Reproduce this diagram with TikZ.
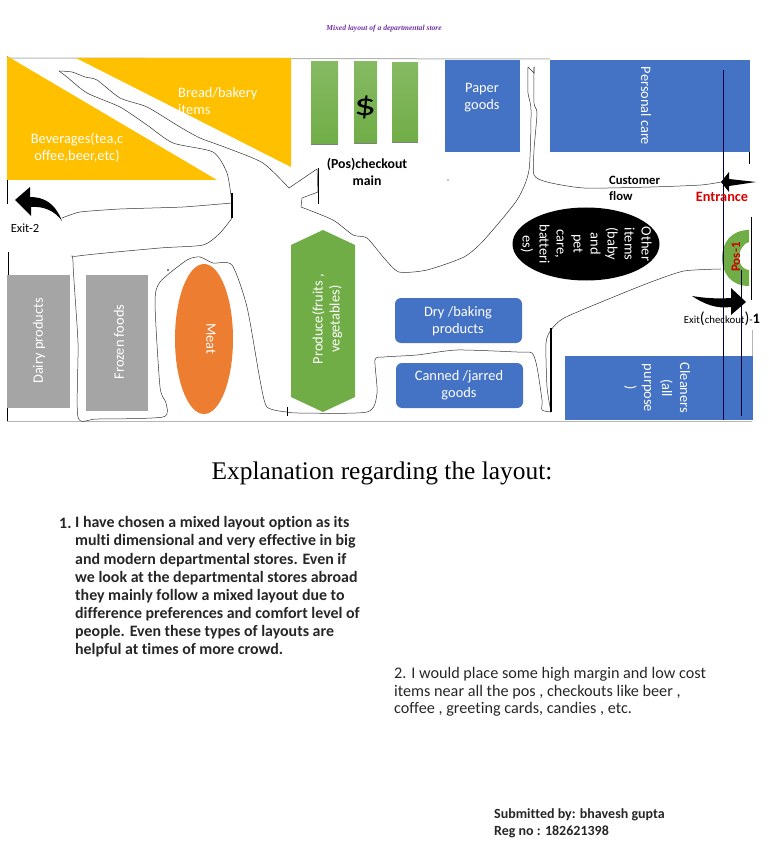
\documentclass[tikz,border=0pt]{standalone}
\usepackage{fontspec}
\usepackage{tikz}
\usetikzlibrary{shapes.geometric}
\setmainfont{Carlito}[Ligatures=NoCommon]
\newfontfamily\timesfont{Liberation Serif}
\definecolor{shelfyellow}{HTML}{FFC000}
\definecolor{shelfblue}{HTML}{4472C4}
\definecolor{shelfgray}{HTML}{A5A5A5}
\definecolor{shelforange}{HTML}{ED7D31}
\definecolor{shelfgreen}{HTML}{70AD47}
\definecolor{titlepurple}{HTML}{7030A0}
\definecolor{wallgray}{HTML}{B5B5B5}
\tikzset{
  shelftext/.style={inner sep=0pt, text=white, align=center, font=\fontsize{14.4}{17}\selectfont},
  blacktext/.style={inner sep=0pt, text=black, align=center, font=\fontsize{13.8}{16.5}\bfseries\selectfont},
  checkbar/.style={top color=shelfgreen!85!white, bottom color=shelfgreen, draw=none},
  flow/.style={black!80, line width=0.5pt},
  wall/.style={black, line width=0.8pt},
  para/.style={inner sep=0pt, align=left, anchor=north west, font=\fontsize{15.9}{18.1}\bfseries\selectfont, text=black!85},
}
\begin{document}
\begin{tikzpicture}[x=1pt,y=-1pt]
  \useasboundingbox (0,0) rectangle (768,866);
  % title
  \draw (384,29) node[inner sep=0pt, text=titlepurple, font=\fontsize{7.6}{9}\timesfont\bfseries\itshape\selectfont](title){Mixed layout of a departmental store};
  % walls
  \draw[wallgray, line width=1pt] (7,58) -- (550,59);
  \draw[wallgray, line width=1pt] (7,421) -- (752,421);
  \draw[wall] (7,56) -- (7,204);
  \draw[wall] (8,252) -- (8,275);
  \draw[wall] (7,408) -- (7,421);
  % triangles
  \fill[shelfyellow] (7,56) -- (217,180) -- (7,180) -- cycle;
  \fill[shelfyellow] (76,58) -- (291,58) -- (291,167) -- cycle;
  \draw (77,148) node[shelftext](beverages){Beverages(tea,c\\offee,beer,etc)};
  \draw (178,101) node[shelftext, anchor=west, align=left](bread){Bread/bakery\\items};
  % checkout bars
  \fill[checkbar] (311,62) rectangle (338,144);
  \fill[checkbar] (354,62) rectangle (377,143);
  \fill[checkbar] (392,63) rectangle (418,142);
  \draw[black!50] (311,144) -- (338,144);
  \draw[black!50] (354,143) -- (377,143);
  \draw[black!50] (392,142) -- (418,142);
  \draw (365,107) node[inner sep=0pt, xscale=1.4, font=\fontsize{31}{31}\selectfont](dollar){\$};
  \draw (367,172) node[blacktext](checkout){(Pos)checkout\\main};
  % blue shelves
  \fill[shelfblue] (445,60) rectangle (520,152);
  \draw (482,98) node[shelftext](paper){Paper\\goods};
  \fill[shelfblue] (550,60) rectangle (750,152);
  \draw (646,106) node[shelftext, rotate=-90](personal){Personal care};
  \fill[shelfblue] (565,356) rectangle (753,420);
  \draw (657,388) node[shelftext, rotate=-90, font=\fontsize{14.4}{18}\selectfont](cleaners){Cleaners\\(all\\purpose\\)};
  \draw[rounded corners=6pt, fill=shelfblue, draw=none] (395,298) rectangle (522,343);
  \draw (458,321) node[shelftext](dry){Dry /baking\\products};
  \draw[rounded corners=6pt, fill=shelfblue, draw=none] (396,363) rectangle (523,408);
  \draw (459,385) node[shelftext](canned){Canned /jarred\\goods};
  % other items
  \draw (586,244) node[ellipse, fill=black, minimum width=147pt, minimum height=73pt, inner sep=0pt](otherbg){};
  \draw (586,244) node[shelftext, rotate=-90](other){Other\\items\\(baby\\and\\pet\\care,\\batteri\\es)};
  % gray shelves
  \fill[shelfgray] (7,275) rectangle (70,408);
  \draw (39,341) node[shelftext, rotate=90](dairy){Dairy products};
  \fill[shelfgray] (86,275) rectangle (148,411);
  \draw (119,342) node[shelftext, rotate=90](frozen){Frozen foods};
  % meat and produce
  \draw (204,339) node[ellipse, fill=shelforange, minimum width=58pt, minimum height=150pt, inner sep=0pt](meatbg){};
  \draw (211,339) node[shelftext, rotate=-90](meat){Meat};
  \fill[shelfgreen] (323,230) -- (355,245) -- (355,397) -- (323,412) -- (291,397) -- (291,245) -- cycle;
  \draw (327,319) node[shelftext, rotate=90](produce){Produce(fruits ,\\vegetables)};
  % customer flow
  \draw[flow] plot[smooth, tension=0.4] coordinates {(59,71) (72,72) (85,77) (97,80) (120,98) (147,107) (180,127) (200,138) (227,148) (263,163) (289,188)}
    -- (317,169) -- (318,192) -- (302,198) -- (301,207);
  \draw[flow] plot[smooth, tension=0.4] coordinates {(301,207) (333,220) (353,235) (367,238) (384,258) (399,272) (427,270) (464,257) (484,240) (517,200) (529,170) (531,110) (528,93) (528,67)}
    -- (534,73) -- (534,67);
  \draw[flow] plot[smooth, tension=0.4] coordinates {(534,67) (534,103) (537,113) (534,150) (534,175) (547,182) (584,188) (651,187) (701,185) (721,182)};
  \draw[flow] plot[smooth, tension=0.4] coordinates {(59,71) (67,77) (87,93) (120,107) (147,125) (173,143) (213,152) (227,173) (232,203)};
  \draw[flow] plot[smooth, tension=0.3] coordinates {(232,203) (183,207) (120,209) (80,212) (62,218)};
  \draw[flow] plot[smooth, tension=0.4] coordinates {(232,218) (220,233) (203,245) (160,248) (78,256) (73,262) (78,343) (78,417) (97,419) (163,417) (166,403) (160,387) (155,303) (160,282) (187,260) (200,257) (213,263) (232,265) (247,307) (260,380) (267,407) (287,412)};
  \draw[flow] plot[smooth, tension=0.4] coordinates {(287,412) (298,413) (367,412) (377,393) (375,360) (384,357) (417,355) (457,350) (517,352) (532,353) (537,367) (542,400) (542,410) (551,412)};
  \draw[flow] plot[smooth, tension=0.4] coordinates {(551,412) (547,387) (546,343) (551,330) (564,318) (611,298) (651,282) (684,271) (721,269)};
  % short posts
  \draw[wall, line width=1.2pt] (232,193) -- (232,218);
  \draw[wall] (287,407) -- (287,416);
  \draw[wall] (318,168) -- (318,204);
  \draw[wall, line width=1.2pt] (551,328) -- (551,412);
  \fill[black] (448,180) circle (0.7);
  \fill[black] (168,270) circle (0.9);
  % pos arc
  \fill[shelfgreen, even odd rule] (749,230) .. controls (731,230) and (722,243) .. (722,258) .. controls (722,273) and (731,286) .. (749,286) -- (749,270) .. controls (744,270) and (739,265) .. (739,258) .. controls (739,250) and (744,243) .. (749,242) -- cycle;
  \draw (736,257) node[inner sep=0pt, rotate=90, text=red!80!black, font=\fontsize{13}{15}\bfseries\selectfont](pos){Pos-1};
  % long verticals
  \draw[black!75!blue, line width=0.9pt] (723,70) -- (723,420);
  \draw[black!80!blue, line width=0.8pt] (741,270) -- (741,416);
  \draw[wall] (751,217) -- (751,300);
  \draw[wall] (749,152) -- (749,164);
  \draw[wallgray] (752,330) -- (752,356);
  % arrows
  \fill[black] (721,182) -- (729,172) -- (729,179) -- (756,182) -- (729,186) -- (729,192) -- cycle;
  \fill[black] (15,200) -- (30,187) -- (30,197) .. controls (44,197) and (55,203) .. (62,221) .. controls (55,211) and (44,206) .. (31,207) -- (31,216) -- cycle;
  \fill[black] (746,302) -- (731,288) -- (731,298) .. controls (716,299) and (704,298) .. (692,296) .. controls (704,304) and (716,309) .. (731,307) -- (731,315) -- cycle;
  % small labels
  \draw (609,188) node[inner sep=0pt, anchor=west, align=left, font=\fontsize{12.7}{16}\bfseries\selectfont](customer){Customer\\flow};
  \draw (722,197) node[inner sep=0pt, text=red!85!black, font=\fontsize{14.3}{15}\bfseries\selectfont](entrance){Entrance};
  \draw (25,228) node[inner sep=0pt, font=\fontsize{12.5}{14}\selectfont](exittwo){Exit-2};
  \draw (722,319) node[inner sep=0pt, font=\fontsize{10.8}{12}\selectfont](exitone){Exit{\fontsize{16}{12}\selectfont(}checkout{\fontsize{16}{12}\selectfont)}-{\fontsize{14.5}{12}\bfseries\selectfont 1}};
  % explanation
  \draw (382,473) node[inner sep=0pt, font=\fontsize{25.4}{28}\timesfont\selectfont](heading){Explanation regarding the layout:};
  \draw (59,517.5) node[para](numone){1.};
  \draw (75,516.5) node[para](listone){I have chosen a mixed layout option as its\\multi dimensional and very effective in big\\and modern departmental stores. Even if\\we look at the departmental stores abroad\\they mainly follow a mixed layout due to\\difference preferences and comfort level of\\people. Even these types of layouts are\\helpful at times of more crowd.};
  \draw (394,667) node[para, font=\fontsize{16.2}{17.7}\selectfont](listtwo){2. I would place some high margin and low cost\\items near all the pos , checkouts like beer ,\\coffee , greeting cards, candies , etc.};
  \draw (494,808) node[para, font=\fontsize{14}{17.5}\bfseries\selectfont](submitted){Submitted by: bhavesh gupta\\Reg no : 182621398};
\end{tikzpicture}
\end{document}
